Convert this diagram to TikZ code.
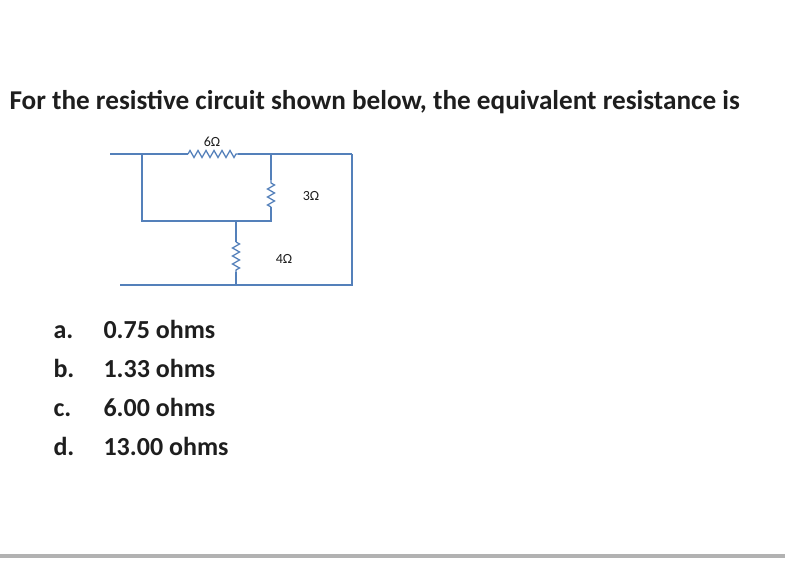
\documentclass[tikz,border=0pt]{standalone}
\usepackage{fontspec}
\setmainfont{Carlito}
\usetikzlibrary{decorations.pathmorphing}
\definecolor{wire}{RGB}{84,128,186}
\definecolor{txt}{RGB}{30,30,30}
\begin{document}
\begin{tikzpicture}[x=1pt,y=-1pt,
  w/.style={draw=wire,line width=1.3pt},
  wb/.style={draw=wire,line width=2pt},
  res/.style={draw=wire,line width=1.3pt,decorate,decoration={zigzag,segment length=8,amplitude=3.5}},
  lab/.style={font=\fontsize{14}{15}\selectfont,text=txt},
  q/.style={anchor=base west,font=\bfseries\fontsize{27.2}{30}\selectfont,text=txt},
  o/.style={anchor=base west,font=\bfseries\fontsize{26}{30}\selectfont,text=txt}]
\useasboundingbox (0,0) rectangle (785,561);
\fill[gray!60] (0,554) rectangle (785,558);
\node[q] (title) at (6,110) {For the resistive circuit shown below, the equivalent resistance is};
\node[o] (a) at (50,339) {a.};\node[o] (at) at (100,339) {0.75 ohms};
\node[o] (b) at (50,378) {b.};\node[o] (bt) at (100,378) {1.33 ohms};
\node[o] (c) at (50,417) {c.};\node[o] (ct) at (100,417) {6.00 ohms};
\node[o] (d) at (50,455) {d.};\node[o] (dt) at (100,455) {13.00 ohms};
\coordinate (in) at (110,154);
\coordinate (L) at (142,154);
\coordinate (r6a) at (188,154);
\coordinate (r6b) at (238,154);
\coordinate (J) at (271,154);
\coordinate (R) at (352,154);
\coordinate (r3a) at (271,180);
\coordinate (r3b) at (271,207);
\coordinate (M) at (271,221);
\coordinate (LM) at (142,221);
\coordinate (K) at (236,221);
\coordinate (r4a) at (236,242);
\coordinate (r4b) at (236,272);
\coordinate (B) at (236,285);
\coordinate (BL) at (120,285);
\coordinate (BR) at (352,285);
\draw[w] (in) -- (r6a);
\draw[res] (r6a) -- (r6b);
\draw[w] (r6b) -- (J) -- (R);
\draw[w] (L) -- (LM) -- (K) -- (M) -- (r3b);
\draw[res] (r3b) -- (r3a);
\draw[w] (r3a) -- (J);
\draw[w] (K) -- (r4a);
\draw[res] (r4a) -- (r4b);
\draw[w] (r4b) -- (B);
\draw[wb] (BL) -- (BR) -- (R);
\node[lab] (l6) at (212,142) {6Ω};
\node[lab] (l3) at (311,196) {3Ω};
\node[lab] (l4) at (284,259) {4Ω};
\end{tikzpicture}
\end{document}
